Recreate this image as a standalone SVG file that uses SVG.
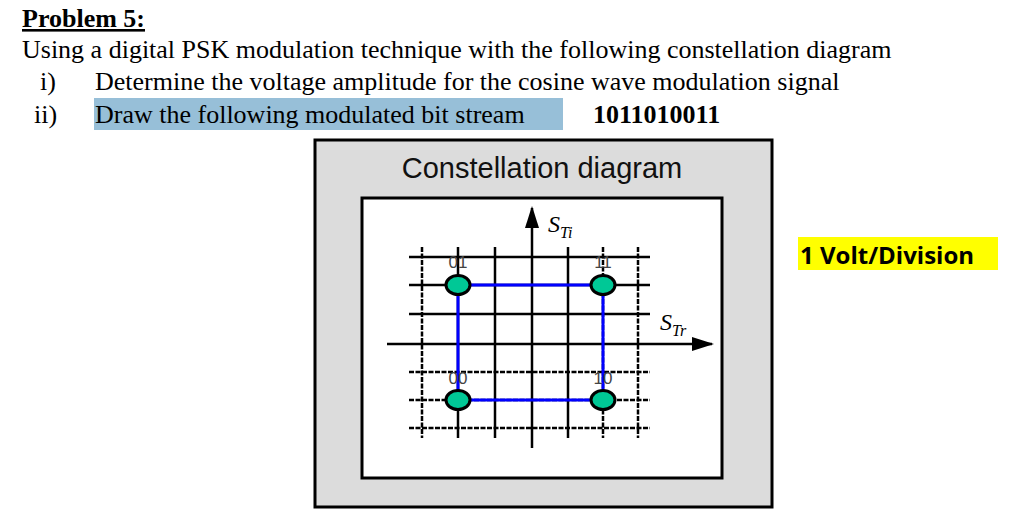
<svg xmlns="http://www.w3.org/2000/svg" width="1016" height="523" viewBox="0 0 1016 523">
<style>
.t{font-family:"Liberation Serif",serif;font-size:26px;fill:#000}
.g{stroke:#000;stroke-width:2.5}
.gd{stroke:#000;stroke-width:2.5;stroke-dasharray:5 1.5}
.pt{fill:#00c896;stroke:#000;stroke-width:3}
.lbl{font-family:"Liberation Sans",sans-serif;font-size:17px;fill:#444}
.it{font-family:"Liberation Serif",serif;font-style:italic;fill:#000}
</style>
<defs><marker id="ar" markerWidth="10" markerHeight="10" refX="9" refY="5" orient="auto" markerUnits="userSpaceOnUse"><path d="M0,0L10,5L0,10z" fill="#000"/></marker>
<marker id="ar2" markerWidth="22" markerHeight="14" refX="20" refY="7" orient="auto" markerUnits="userSpaceOnUse"><path d="M0,0L22,7L0,14z" fill="#000"/></marker></defs>
<rect width="1016" height="523" fill="#fff"/>
<g id="text">
<text x="22" y="27" class="t" font-weight="bold" font-size="28" text-decoration="underline">Problem 5:</text>
<text x="22" y="58" class="t">Using a digital PSK modulation technique with the following constellation diagram</text>
<text x="40" y="90" class="t">i)</text>
<text x="95" y="90" class="t">Determine the voltage amplitude for the cosine wave modulation signal</text>
<rect x="94" y="98" width="469" height="32" fill="#97bfd8"/>
<text x="34" y="123" class="t">ii)</text>
<text x="95" y="123" class="t">Draw the following modulated bit stream</text>
<text x="593" y="123" class="t" font-weight="bold">1011010011</text>
<rect x="798" y="237" width="200" height="33" fill="#ffff00"/>
<text x="800" y="264" font-family="Open Sans,sans-serif" font-weight="bold" font-size="24" fill="#000">1 Volt/Division</text>
</g>
<g id="frame">
<rect x="315" y="140" width="457" height="367" fill="#dcdcdc" stroke="#000" stroke-width="3"/>
<text x="542" y="178" text-anchor="middle" font-family="Liberation Sans,sans-serif" font-size="29" fill="#111">Constellation diagram</text>
<rect x="362" y="198" width="360" height="280" fill="#fff" stroke="#000" stroke-width="3"/>
</g>
<g id="grid">
<line x1="409" y1="257" x2="650" y2="257" class="g"/>
<line x1="409" y1="285" x2="650" y2="285" class="g"/>
<line x1="409" y1="314" x2="650" y2="314" class="g"/>
<line x1="409" y1="372" x2="650" y2="372" class="gd"/>
<line x1="409" y1="400" x2="650" y2="400" class="gd"/>
<line x1="409" y1="428" x2="650" y2="428" class="gd"/>
<line x1="422" y1="247" x2="422" y2="438" class="gd"/>
<line x1="458" y1="247" x2="458" y2="438" class="g"/>
<line x1="495" y1="247" x2="495" y2="438" class="g"/>
<line x1="568" y1="247" x2="568" y2="438" class="g"/>
<line x1="603" y1="247" x2="603" y2="438" class="gd"/>
<line x1="638" y1="247" x2="638" y2="438" class="gd"/>
</g>
<g id="connectors">
<line x1="387" y1="344" x2="712" y2="344" class="g" marker-end="url(#ar2)"/>
<line x1="532" y1="448" x2="532" y2="208" class="g" marker-end="url(#ar2)"/>
<rect x="458" y="285" width="145" height="115" fill="none" stroke="#0000ff" stroke-width="3"/>
</g>
<g id="labels">
<text x="548" y="232" class="it" font-size="24">S<tspan font-size="16" dy="6">Ti</tspan></text>
<text x="660" y="330" class="it" font-size="24">S<tspan font-size="16" dy="6">Tr</tspan></text>
<text x="458" y="268" class="lbl" text-anchor="middle">01</text>
<text x="603" y="268" class="lbl" text-anchor="middle">11</text>
<text x="458" y="384" class="lbl" text-anchor="middle">00</text>
<text x="603" y="384" class="lbl" text-anchor="middle">10</text>
</g>
<g id="n01"><ellipse cx="458" cy="285" rx="12" ry="9.5" class="pt"/></g>
<g id="n11"><ellipse cx="603" cy="285" rx="12" ry="9.5" class="pt"/></g>
<g id="n00"><ellipse cx="458" cy="400" rx="12" ry="9.5" class="pt"/></g>
<g id="n10"><ellipse cx="603" cy="400" rx="12" ry="9.5" class="pt"/></g>
</svg>
